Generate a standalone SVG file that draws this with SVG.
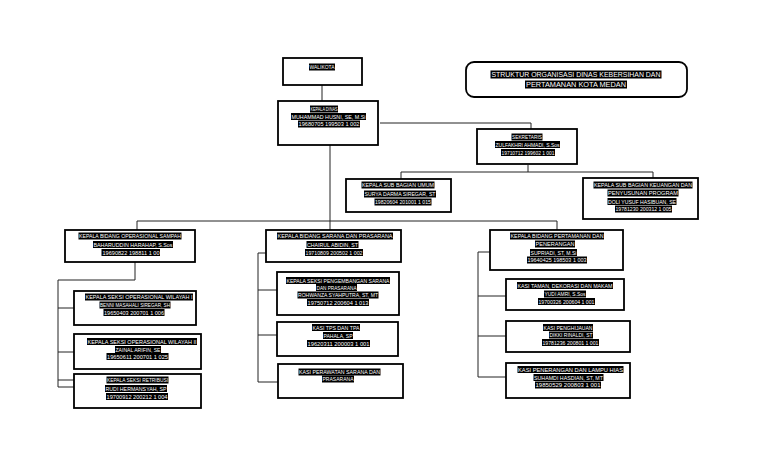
<svg xmlns="http://www.w3.org/2000/svg" width="768" height="466" viewBox="0 0 768 466">
<style>
.bg{fill:#fff}
.box{fill:#fff;stroke:#000;stroke-width:1.8}
.conn{fill:none;stroke:#222;stroke-width:1}
.hl{fill:#000}
.t{font-family:"Liberation Sans",Arial,sans-serif;font-size:5.6px;fill:#fff;text-anchor:middle}
.tt{font-family:"Liberation Sans",Arial,sans-serif;font-size:7.4px;fill:#fff;text-anchor:middle}
</style>
<rect class="bg" x="0" y="0" width="768" height="466"/>
<g id="connectors">
<path class="conn" d="M322,85 V101"/>
<path class="conn" d="M380,123 H531 V129"/>
<path class="conn" d="M528,165 V172 M401,172 H653 M401,172 V179 M653,172 V178"/>
<path class="conn" d="M330,145 V230 M137,221 H557 M137,221 V230 M557,221 V230"/>
<path class="conn" d="M135,262 V280 H58 V387 M58,308 H74 M58,352 H74 M58,380 H74 M58,387 H74"/>
<path class="conn" d="M266,253 H258 V382 M258,290 H277 M258,335 H277 M258,382 H278"/>
<path class="conn" d="M490,252 H478 V377 M478,296 H506 M478,336 H506 M478,377 H506"/>
</g>
<g id="walikota">
<rect class="box" x="283" y="58" width="79" height="27"/>
<rect class="hl" x="309" y="63.5" width="26" height="7"/><text class="t" x="322" y="69" textLength="25" lengthAdjust="spacingAndGlyphs">WALIKOTA</text>
</g>
<g id="title">
<rect class="box" x="466" y="62" width="221" height="35" rx="8"/>
<rect class="hl" x="490.5" y="70.5" width="171" height="8"/><text class="tt" x="576" y="77" textLength="169" lengthAdjust="spacingAndGlyphs">STRUKTUR ORGANISASI DINAS KEBERSIHAN DAN</text>
<rect class="hl" x="525" y="80.5" width="102" height="8"/><text class="tt" x="576" y="87" textLength="100" lengthAdjust="spacingAndGlyphs">PERTAMANAN KOTA MEDAN</text>
</g>
<g id="kepala-dinas">
<rect class="box" x="278" y="101" width="100" height="44"/>
<rect class="hl" x="310" y="105.5" width="28" height="7"/><text class="t" x="324" y="111" textLength="27" lengthAdjust="spacingAndGlyphs">KEPALA DINAS</text>
<rect class="hl" x="291" y="113" width="75" height="7"/><text class="t" x="328.5" y="118.5" textLength="74" lengthAdjust="spacingAndGlyphs">MUHAMMAD HUSNI, SE, M.Si</text>
<rect class="hl" x="298" y="120.5" width="62" height="7"/><text class="t" x="329" y="126" textLength="61" lengthAdjust="spacingAndGlyphs">19680705 199503 1 002</text>
</g>
<g id="sekretaris">
<rect class="box" x="477" y="129" width="100" height="35"/>
<rect class="hl" x="511.5" y="133.5" width="31" height="7"/><text class="t" x="527" y="139" textLength="30" lengthAdjust="spacingAndGlyphs">SEKRETARIS</text>
<rect class="hl" x="495" y="141" width="65" height="7"/><text class="t" x="527.5" y="146.5" textLength="64" lengthAdjust="spacingAndGlyphs">ZULFAKHRI AHMADI, S.Sos</text>
<rect class="hl" x="501" y="149" width="54" height="7"/><text class="t" x="528" y="154.5" textLength="53" lengthAdjust="spacingAndGlyphs">19710712 199602 1 001</text>
</g>
<g id="subbag-umum">
<rect class="box" x="346" y="179" width="105" height="33"/>
<rect class="hl" x="361.5" y="181.5" width="73" height="7"/><text class="t" x="398" y="187" textLength="72" lengthAdjust="spacingAndGlyphs">KEPALA SUB BAGIAN UMUM</text>
<rect class="hl" x="364" y="190.5" width="72" height="7"/><text class="t" x="400" y="196" textLength="71" lengthAdjust="spacingAndGlyphs">SURYA DARMA SIREGAR, ST</text>
<rect class="hl" x="374.5" y="198.5" width="57" height="7"/><text class="t" x="403" y="204" textLength="56" lengthAdjust="spacingAndGlyphs">19820604 201001 1 015</text>
</g>
<g id="subbag-keuangan">
<rect class="box" x="583" y="178" width="115" height="41"/>
<rect class="hl" x="593.5" y="181.5" width="99" height="7"/><text class="t" x="643" y="187" textLength="98" lengthAdjust="spacingAndGlyphs">KEPALA SUB BAGIAN KEUANGAN DAN</text>
<rect class="hl" x="607.5" y="189.5" width="71" height="7"/><text class="t" x="643" y="195" textLength="70" lengthAdjust="spacingAndGlyphs">PENYUSUNAN PROGRAM</text>
<rect class="hl" x="607.5" y="198" width="69" height="7"/><text class="t" x="642" y="203.5" textLength="68" lengthAdjust="spacingAndGlyphs">DOLI YUSUF HASIBUAN, SE</text>
<rect class="hl" x="615" y="205.5" width="57" height="7"/><text class="t" x="643.5" y="211" textLength="56" lengthAdjust="spacingAndGlyphs">19781230 200312 1 005</text>
</g>
<g id="bidang-operasional">
<rect class="box" x="65" y="230" width="130" height="32"/>
<rect class="hl" x="78.5" y="232.5" width="103" height="7"/><text class="t" x="130" y="238" textLength="102" lengthAdjust="spacingAndGlyphs">KEPALA BIDANG OPERASIONAL SAMPAH</text>
<rect class="hl" x="93" y="241" width="80" height="7"/><text class="t" x="133" y="246.5" textLength="79" lengthAdjust="spacingAndGlyphs">BAHARUDDIN HARAHAP, S.Sos</text>
<rect class="hl" x="101.5" y="249" width="58.5" height="7"/><text class="t" x="131" y="254.5" textLength="57" lengthAdjust="spacingAndGlyphs">19690822 198811 1 00</text>
</g>
<g id="bidang-sarana">
<rect class="box" x="266" y="230" width="135" height="32"/>
<rect class="hl" x="277" y="232.5" width="116" height="7"/><text class="t" x="335" y="238" textLength="115" lengthAdjust="spacingAndGlyphs">KEPALA BIDANG SARANA DAN PRASARANA</text>
<rect class="hl" x="306.5" y="241" width="52" height="7"/><text class="t" x="332.5" y="246.5" textLength="51" lengthAdjust="spacingAndGlyphs">CHAIRUL  ABIDIN, ST</text>
<rect class="hl" x="305" y="249" width="58" height="7"/><text class="t" x="334" y="254.5" textLength="57" lengthAdjust="spacingAndGlyphs">19710809 200502 1 002</text>
</g>
<g id="bidang-pertamanan">
<rect class="box" x="490" y="230" width="133" height="40"/>
<rect class="hl" x="510" y="232.5" width="94" height="7"/><text class="t" x="557" y="238" textLength="93" lengthAdjust="spacingAndGlyphs">KEPALA BIDANG PERTAMANAN DAN</text>
<rect class="hl" x="535" y="240.5" width="40" height="7"/><text class="t" x="555" y="246" textLength="39" lengthAdjust="spacingAndGlyphs">PENERANGAN</text>
<rect class="hl" x="530" y="249" width="47" height="7"/><text class="t" x="553.5" y="254.5" textLength="46" lengthAdjust="spacingAndGlyphs">SUPRIADI, ST, M.Si</text>
<rect class="hl" x="527" y="256.5" width="60" height="7"/><text class="t" x="557" y="262" textLength="59" lengthAdjust="spacingAndGlyphs">19640425 198503 1 003</text>
</g>
<g id="seksi-wilayah-1">
<rect class="box" x="74" y="291" width="122" height="34"/>
<rect class="hl" x="85" y="293.5" width="108" height="7"/><text class="t" x="139" y="299" textLength="107" lengthAdjust="spacingAndGlyphs">KEPALA SEKSI OPERASIONAL WILAYAH I</text>
<rect class="hl" x="99.5" y="301.5" width="71" height="7"/><text class="t" x="135" y="307" textLength="70" lengthAdjust="spacingAndGlyphs">BENNI MASAHALI SIREGAR, SH</text>
<rect class="hl" x="103.5" y="309" width="61" height="7"/><text class="t" x="134" y="314.5" textLength="60" lengthAdjust="spacingAndGlyphs">19650403 200701 1 006</text>
</g>
<g id="seksi-wilayah-2">
<rect class="box" x="74" y="334" width="127" height="35"/>
<rect class="hl" x="87" y="338" width="110" height="7"/><text class="t" x="142" y="343.5" textLength="109" lengthAdjust="spacingAndGlyphs">KEPALA SEKSI OPERASIONAL WILAYAH II</text>
<rect class="hl" x="115" y="346" width="46" height="7"/><text class="t" x="138" y="351.5" textLength="45" lengthAdjust="spacingAndGlyphs">ZAINAL ARIFIN, SE</text>
<rect class="hl" x="106.5" y="353" width="62" height="7"/><text class="t" x="137.5" y="358.5" textLength="61" lengthAdjust="spacingAndGlyphs">19650611 200701 1 025</text>
</g>
<g id="seksi-retribusi">
<rect class="box" x="74" y="374" width="127" height="34"/>
<rect class="hl" x="106.5" y="376.5" width="62" height="7"/><text class="t" x="137.5" y="382" textLength="61" lengthAdjust="spacingAndGlyphs">KEPALA SEKSI RETRIBUSI</text>
<rect class="hl" x="105" y="385" width="62" height="7"/><text class="t" x="136" y="390.5" textLength="61" lengthAdjust="spacingAndGlyphs">RUDI HERMANSYAH, SP</text>
<rect class="hl" x="106" y="393" width="62" height="7"/><text class="t" x="137" y="398.5" textLength="61" lengthAdjust="spacingAndGlyphs">19700912 200212 1 004</text>
</g>
<g id="seksi-pengembangan">
<rect class="box" x="277" y="272" width="122" height="43"/>
<rect class="hl" x="286" y="277" width="104" height="7"/><text class="t" x="338" y="282.5" textLength="103" lengthAdjust="spacingAndGlyphs">KEPALA SEKSI PENGEMBANGAN SARANA</text>
<rect class="hl" x="316" y="284" width="41" height="7"/><text class="t" x="336.5" y="289.5" textLength="40" lengthAdjust="spacingAndGlyphs">DAN PRASARANA</text>
<rect class="hl" x="297.5" y="291.5" width="81" height="7"/><text class="t" x="338" y="297" textLength="80" lengthAdjust="spacingAndGlyphs">ROHWANZA SYAHPUTRA, ST, MT</text>
<rect class="hl" x="307" y="299" width="62" height="7"/><text class="t" x="338" y="304.5" textLength="61" lengthAdjust="spacingAndGlyphs">19750712 200604 1 013</text>
</g>
<g id="kasi-tps">
<rect class="box" x="277" y="322" width="121" height="34"/>
<rect class="hl" x="312" y="324" width="48" height="7"/><text class="t" x="336" y="329.5" textLength="47" lengthAdjust="spacingAndGlyphs">KASI TPS DAN TPA</text>
<rect class="hl" x="323" y="332" width="30" height="7"/><text class="t" x="338" y="337.5" textLength="29" lengthAdjust="spacingAndGlyphs">PAHALA, SP</text>
<rect class="hl" x="307" y="340" width="63" height="7"/><text class="t" x="338.5" y="345.5" textLength="62" lengthAdjust="spacingAndGlyphs">19620311 200003 1 001</text>
</g>
<g id="kasi-perawatan">
<rect class="box" x="278" y="364" width="125" height="34"/>
<rect class="hl" x="298.5" y="368.5" width="82" height="7"/><text class="t" x="339.5" y="374" textLength="81" lengthAdjust="spacingAndGlyphs">KASI PERAWATAN SARANA DAN</text>
<rect class="hl" x="322" y="375.5" width="32" height="7"/><text class="t" x="338" y="381" textLength="31" lengthAdjust="spacingAndGlyphs">PRASARANA</text>
</g>
<g id="kasi-taman">
<rect class="box" x="506" y="279" width="118" height="31"/>
<rect class="hl" x="517" y="282" width="96" height="7"/><text class="t" x="565" y="287.5" textLength="95" lengthAdjust="spacingAndGlyphs">KASI TAMAN, DEKORASI DAN MAKAM</text>
<rect class="hl" x="544" y="290.5" width="42" height="7"/><text class="t" x="565" y="296" textLength="41" lengthAdjust="spacingAndGlyphs">YUDI AMRI, S.Sos</text>
<rect class="hl" x="538" y="298" width="57" height="7"/><text class="t" x="566.5" y="303.5" textLength="56" lengthAdjust="spacingAndGlyphs">19700326 200604 1 001</text>
</g>
<g id="kasi-penghijauan">
<rect class="box" x="506" y="321" width="124" height="31"/>
<rect class="hl" x="543" y="324" width="50" height="7"/><text class="t" x="568" y="329.5" textLength="49" lengthAdjust="spacingAndGlyphs">KASI PENGHIJAUAN</text>
<rect class="hl" x="549" y="331.5" width="44" height="7"/><text class="t" x="571" y="337" textLength="43" lengthAdjust="spacingAndGlyphs">DIKKI RINALDI, ST</text>
<rect class="hl" x="542" y="339" width="57" height="7"/><text class="t" x="570.5" y="344.5" textLength="56" lengthAdjust="spacingAndGlyphs">19781236 200801 1 001</text>
</g>
<g id="kasi-penerangan">
<rect class="box" x="506" y="363" width="124" height="35"/>
<rect class="hl" x="517.5" y="366" width="106" height="7"/><text class="t" x="570.5" y="371.5" textLength="105" lengthAdjust="spacingAndGlyphs">KASI PENERANGAN DAN LAMPU HIAS</text>
<rect class="hl" x="533.5" y="374" width="70" height="7"/><text class="t" x="568.5" y="379.5" textLength="69" lengthAdjust="spacingAndGlyphs">SUHAMDI HASDIAN, ST, MT</text>
<rect class="hl" x="535" y="381.5" width="66" height="7"/><text class="t" x="568" y="387" textLength="65" lengthAdjust="spacingAndGlyphs">19850529 200803 1 001</text>
</g>
</svg>
